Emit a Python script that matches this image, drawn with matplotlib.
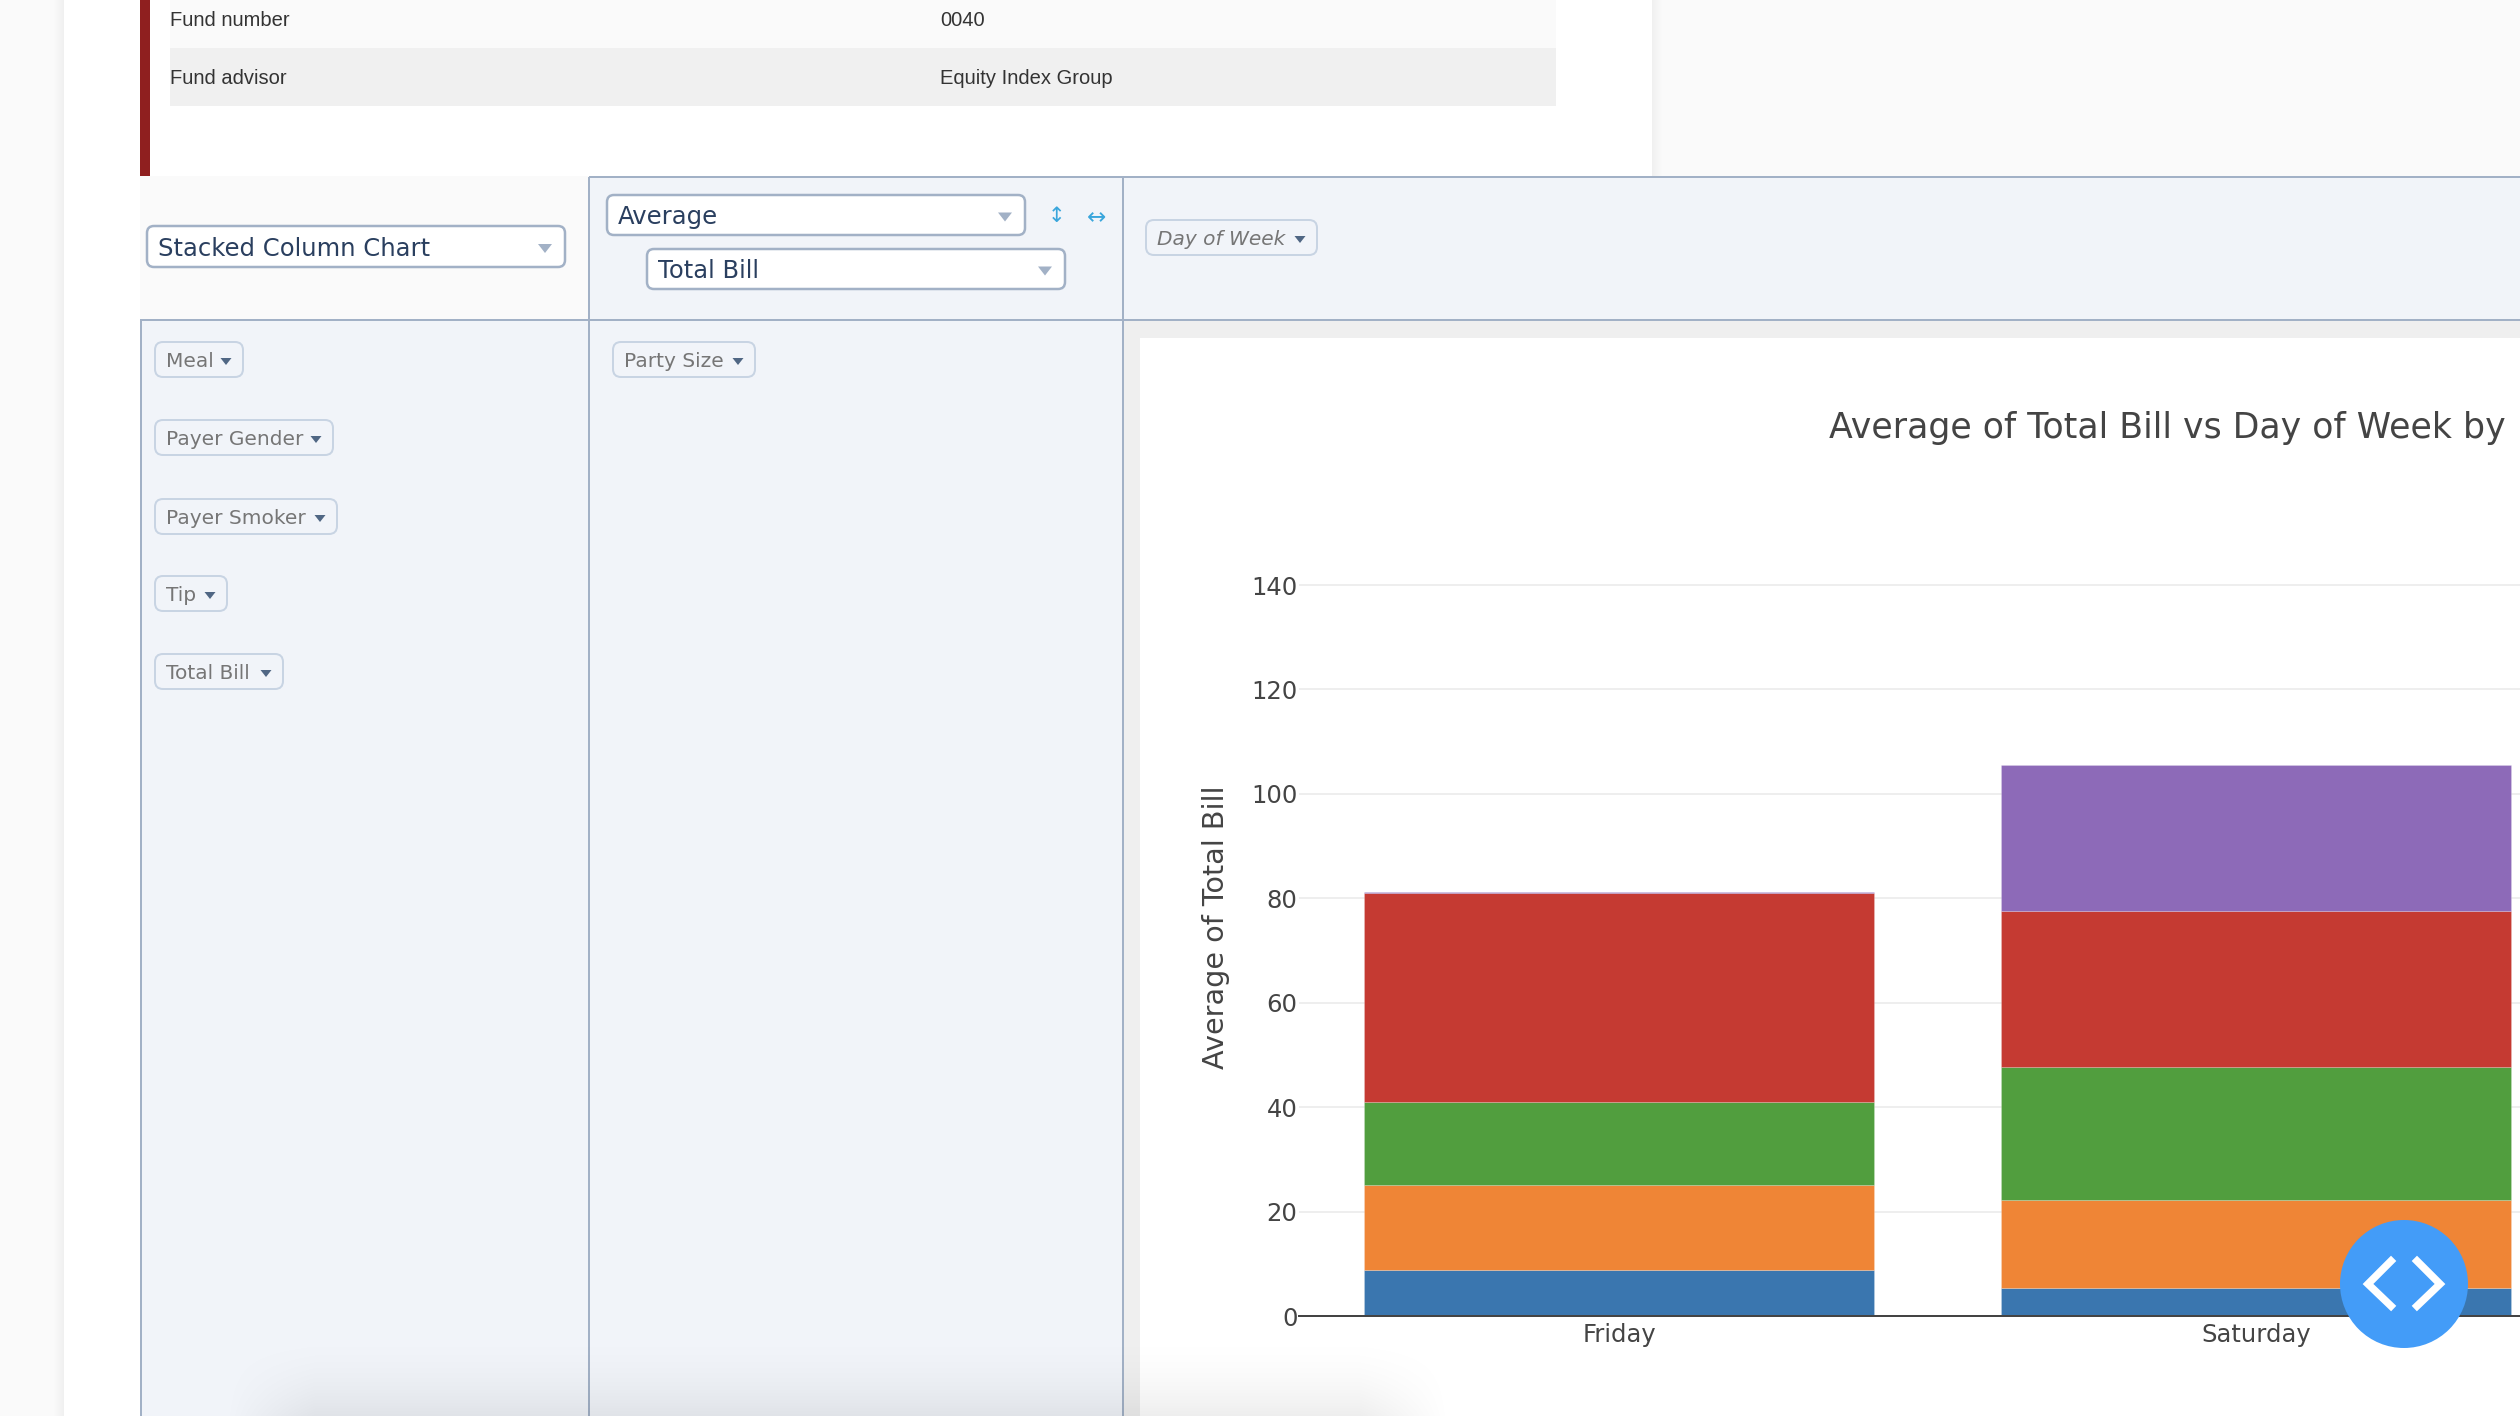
import numpy as np
import matplotlib
matplotlib.use('Agg')
import matplotlib.pyplot as plt
from matplotlib.patches import FancyBboxPatch, Rectangle, Circle, Polygon

W, H = 2520, 1416
DPI = 100

# chart values
days = ['Friday', 'Saturday']
party_1 = [8.9, 5.4]
party_2 = [16.15, 16.8]
party_3 = [15.85, 25.4]
party_4 = [40.15, 29.9]
party_5 = [0.15, 28.0]
y_ticks = [0, 20, 40, 60, 80, 100, 120, 140]

title = 'Average of Total Bill vs Day of Week by'
y_title = 'Average of Total Bill'
table_rows = [('Fund number', '0040'), ('Fund advisor', 'Equity Index Group')]
attr_left = ['Meal', 'Payer Gender', 'Payer Smoker', 'Tip', 'Total Bill']

colors = ['#3a76af', '#ef8536', '#519e3e', '#c53a32', '#8d6ab8']
LINE = '#a2b1c6'
PANEL = '#f1f4f9'
DARK = '#2a3f5f'
GREY = '#767676'


def fs(px):
    return px * 72 / DPI


fig = plt.figure(figsize=(W / DPI, H / DPI), dpi=DPI, facecolor='#fafafa')

# page furniture drawn in pixel coordinates
bg = fig.add_axes([0, 0, 1, 1])
bg.set_xlim(0, W)
bg.set_ylim(H, 0)
bg.axis('off')


def rect(x0, y0, x1, y1, color, ax=bg, z=1):
    ax.add_patch(Rectangle((x0, y0), x1 - x0, y1 - y0, fc=color, ec='none', zorder=z))


def box(x0, y0, x1, y1, edge, lw, r, face):
    bg.add_patch(FancyBboxPatch((x0, y0), x1 - x0, y1 - y0, boxstyle=f'round,pad=0,rounding_size={r}',
                                fc=face, ec=edge, lw=lw * 72 / DPI, zorder=4))


def caret(x, y, w, h, color):
    bg.add_patch(Polygon([(x - w / 2, y - h / 2), (x + w / 2, y - h / 2), (x, y + h / 2)],
                         fc=color, ec='none', zorder=5))


def dropdown(x0, y0, x1, y1, label):
    box(x0, y0, x1, y1, LINE, 2.5, 7, 'white')
    bg.text(x0 + 11, (y0 + y1) / 2 + 2, label, color=DARK, fontsize=fs(24.3), va='center', ha='left', zorder=5)
    caret(x1 - 20, (y0 + y1) / 2 + 2, 14, 9, LINE)


def pill(x0, y0, x1, y1, label, italic=False):
    box(x0, y0, x1, y1, '#c8d4e3', 2, 8, PANEL)
    bg.text(x0 + 11, (y0 + y1) / 2 + 2, label, color=GREY, fontsize=fs(20.2), va='center', ha='left',
            style='italic' if italic else 'normal', zorder=5)
    caret(x1 - 17, (y0 + y1) / 2 + 2, 11, 7, '#506784')


# soft page shadow left and right of the white sheet
for i in range(10):
    a = 0.0035
    rect(54 + i, 0, 64, H, (0, 0, 0, a), z=0.5)
    rect(1652, 0, 1662 - i, 176, (0, 0, 0, a), z=0.5)

rect(64, 0, 1652, H, 'white')
rect(140, 0, 150, 176, '#8f1f1f', z=2)
rect(170, 0, 1556, 48, '#fafafa', z=2)
rect(170, 48, 1556, 106, '#f0f0f0', z=2)
for (name, val), yy in zip(table_rows, [21, 79]):
    bg.text(170, yy, name, family='Liberation Sans', fontsize=fs(20.2), color='#333333', va='center', zorder=3)
    bg.text(940, yy, val, family='Liberation Sans', fontsize=fs(20.2), color='#333333', va='center', zorder=3)

# pivot table panels
rect(140, 176, 589, 320, '#fafafa', z=2)
rect(141, 320, 1123, H, PANEL, z=2)
rect(589, 176, W, 320, PANEL, z=2)
rect(1123, 320, W, H, '#efefef', z=2)
rect(1140, 338, W, H, 'white', z=2)
for (x0, y0, x1, y1) in [(589, 177, W, 177), (140, 320, W, 320), (141, 320, 141, H),
                         (589, 177, 589, H), (1123, 177, 1123, H)]:
    bg.plot([x0, x1], [y0, y1], color=LINE, lw=fs(2), zorder=3, solid_capstyle='butt')

dropdown(147, 226, 565, 267, 'Stacked Column Chart')
dropdown(607, 195, 1025, 235, 'Average')
dropdown(647, 249, 1065, 289, 'Total Bill')
bg.text(1057, 216, '↕', color='#3aa6dc', fontsize=fs(21), ha='center', va='center', zorder=5)
bg.text(1097, 218, '↔', color='#3aa6dc', fontsize=fs(23), ha='center', va='center', zorder=5)

pill_x1 = [243, 333, 337, 227, 283]
pill_y0 = [342, 420, 499, 576, 654]
for label, x1, y0 in zip(attr_left, pill_x1, pill_y0):
    pill(155, y0, x1, y0 + 35, label)
pill(613, 342, 755, 377, 'Party Size')
pill(1146, 220, 1317, 255, 'Day of Week', italic=True)

# the actual chart
px_left, px_zero, px_top = 1299, 1316, 585
ax = fig.add_axes([px_left / W, 1 - px_zero / H, (W - px_left) / W, (px_zero - px_top + 1) / H])
ax.patch.set_alpha(0)
stack = np.zeros(len(days))
pos = np.arange(len(days))
for vals, c in zip([party_1, party_2, party_3, party_4, party_5], colors):
    ax.bar(pos, vals, width=0.8, bottom=stack, color=c, edgecolor=(1, 1, 1, 0.18), linewidth=fs(1), zorder=3)
    stack = stack + np.array(vals)

ax.set_xlim(-0.5024, 1.414)
ax.set_ylim(0, 140.2)
ax.set_yticks(y_ticks)
ax.set_xticks(pos)
ax.set_xticklabels(days)
ax.tick_params(axis='both', length=0, labelsize=fs(24.3), labelcolor='#444444')
ax.tick_params(axis='y', pad=1)
ax.tick_params(axis='x', pad=5)
ax.grid(axis='y', color='#eeeeee', lw=fs(2))
ax.set_axisbelow(True)
for s in ['top', 'right', 'left']:
    ax.spines[s].set_visible(False)
ax.spines['bottom'].set_color('#444444')
ax.spines['bottom'].set_linewidth(fs(2))
ax.spines['bottom'].set_zorder(4)

bg.text(1829, 428, title, fontsize=fs(34.8), color='#444444', va='center', ha='left', zorder=5)
bg.text(1216.5, 927, y_title, fontsize=fs(28.6), color='#444444', rotation=90, va='center', ha='center', zorder=5)

# overlay: floating button and the blurred shadow at the bottom
top = fig.add_axes([0, 0, 1, 1])
top.set_xlim(0, W)
top.set_ylim(H, 0)
top.axis('off')
top.patch.set_alpha(0)

xx = np.arange(W) + 0.5
yy = np.arange(1320, H) + 0.5
fade_x = np.clip((xx - 225) / 90, 0, 1) * np.clip((1450 - xx) / 90, 0, 1)
fade_y = np.clip((yy - 1325) / 91, 0, 1) ** 2
shade = np.zeros((len(yy), W, 4))
shade[..., 3] = 0.07 * np.outer(fade_y, fade_x)
top.imshow(shade, extent=(0, W, H, 1320), aspect='auto', interpolation='bilinear', zorder=1)
top.set_xlim(0, W)
top.set_ylim(H, 0)

top.add_patch(Circle((2404, 1284), 64, fc='#439cf8', ec='none', zorder=5))
top.plot([2391, 2368, 2391], [1261, 1284, 1306], color='white', lw=fs(7.5), zorder=6, solid_joinstyle='miter')
top.plot([2417, 2440, 2417], [1261, 1284, 1306], color='white', lw=fs(7.5), zorder=6, solid_joinstyle='miter')

fig.savefig('out.png', dpi=DPI, facecolor=fig.get_facecolor())
